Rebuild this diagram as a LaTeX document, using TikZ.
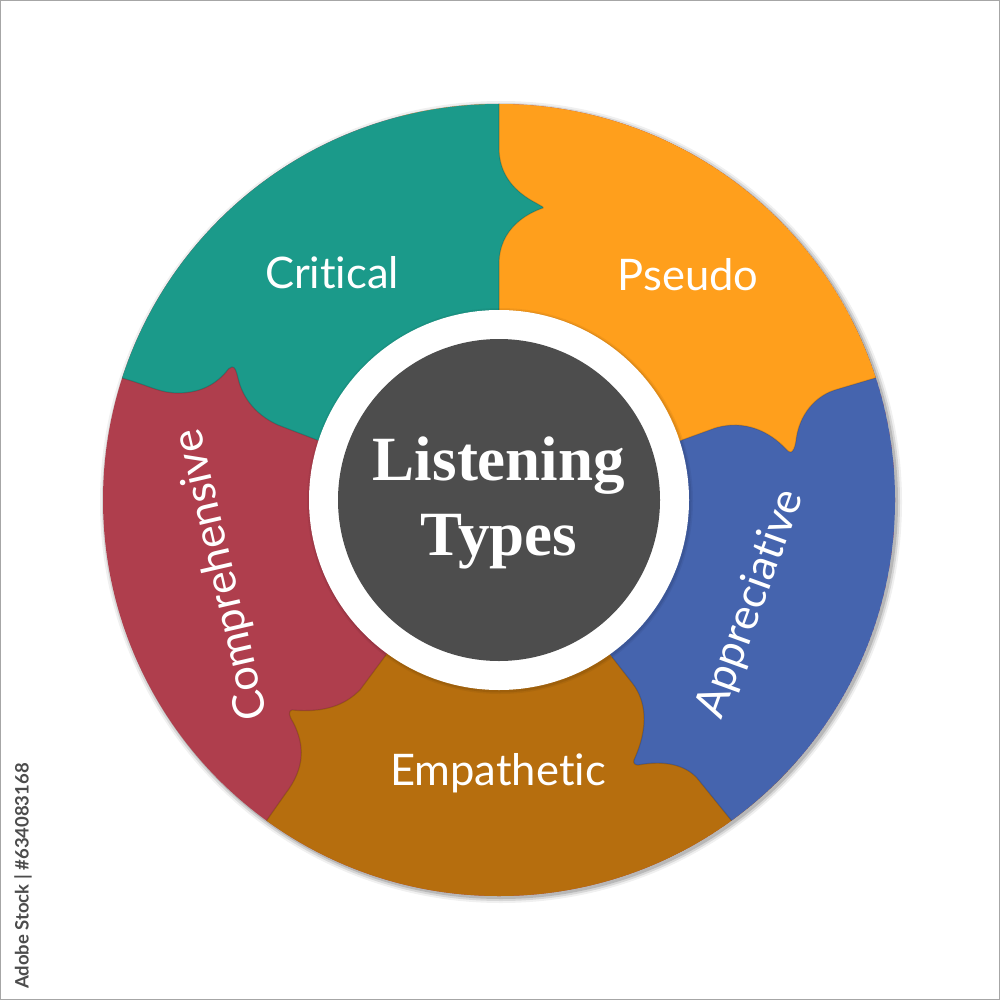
\documentclass[tikz,border=0pt]{standalone}
\usepackage{fontspec}
\setmainfont[Ligatures=NoCommon]{Lato}
\newfontfamily\serifb{Liberation Serif}
\definecolor{cgreen}{HTML}{1B9A8A}
\definecolor{corange}{HTML}{FF9F1C}
\definecolor{cblue}{HTML}{4564AE}
\definecolor{cbrown}{HTML}{B66E0E}
\definecolor{cred}{HTML}{AF3E4D}
\definecolor{cdark}{HTML}{4D4D4D}
\def\bTop{(499,90) -- (499,148) .. controls (499,175) and (515,192) .. (536,203) .. controls (541,206) and (544,207) .. (543,208) .. controls (528,213) and (499,228) .. (499,264) -- (499,310)}
\def\bRedGreen{(317,440) -- (278,425) .. controls (258,416) and (243,400) .. (238,378) .. controls (236,370) and (235,367) .. (232,367) .. controls (229,367) and (228,370) .. (226,372) .. controls (214,386) and (198,393) .. (178,393) .. controls (160,393) and (150,386) .. (122,378) -- (90,368)}
\def\bOrangeBlue{(682,440) -- (715,428) .. controls (745,419) and (770,432) .. (785,448) .. controls (788,451) and (790,453) .. (791,452) .. controls (793,451) and (795,448) .. (796,440) .. controls (799,415) and (815,395) .. (838,389) -- (875,378) -- (930,362)}
\def\bBlueBrown{(612,657) -- (633,684) .. controls (645,700) and (650,725) .. (634,760) .. controls (633,763) and (635,765) .. (638,765) .. controls (665,760) and (685,765) .. (697,778) -- (731,820) -- (760,860)}
\def\bBrownRed{(240,858) -- (267,820) -- (286,793) .. controls (305,768) and (305,745) .. (293,722) .. controls (289,716) and (288,711) .. (292,710) .. controls (325,713) and (345,705) .. (360,690) -- (386,655)}
\tikzset{
  seam/.style={draw=black,opacity=.14,line width=1.2pt},
  seglabel/.style={text=white,font=\fontsize{43.5}{50}\selectfont,inner sep=0pt},
  titlelabel/.style={text=white,font=\serifb\bfseries\fontsize{63}{74}\selectfont,align=center,inner sep=0pt}
}
\begin{document}
\begin{tikzpicture}[x=1pt,y=-1pt]
\useasboundingbox (0,0) rectangle (1000,1000);
\fill[white] (0,0) rectangle (1000,1000);
\draw[black!35,line width=1pt] (0.5,0.5) rectangle (999.5,999.5);
% soft shadow of the wheel
\foreach \r/\o in {401/.06,399/.10,397/.14}{
  \fill[black,opacity=\o] (501,502) circle[radius=\r];
}
\begin{scope}
\clip (499,500) circle[radius=396];
\fill[cred] (499,500) circle[radius=396];
\fill[cbrown] \bBrownRed -- (499,500) -- (700,600) -- (850,850) -- (499,950) -- cycle;
\path[seam] \bBrownRed;
\fill[cblue] (499,500) -- \bBlueBrown -- (780,890) -- (950,800) -- (950,300) -- (700,350) -- cycle;
\path[seam] \bBlueBrown;
\fill[corange] (499,500) -- \bOrangeBlue -- (930,50) -- (400,50) -- (400,250) -- cycle;
\path[seam] \bOrangeBlue;
\fill[cgreen] \bTop -- (499,500) -- \bRedGreen -- (90,90) -- cycle;
\path[seam] \bTop;
\path[seam] \bRedGreen;
\end{scope}
% hub
\foreach \r/\o in {193/.05,191.5/.08}{
  \fill[black,opacity=\o] (500,501) circle[radius=\r];
}
\fill[white] (499,500) circle[radius=190];
\node[circle,fill=cdark,minimum size=322pt,inner sep=0pt] (hub) at (499,500) {};
\node[titlelabel] (title) at (499,503) {Listening\\[1pt]Types};
\node[seglabel] (critical) at (332,273) {Critical};
\node[seglabel] (pseudo) at (688,275) {Pseudo};
\node[seglabel] (empathetic) at (498,773) {Empathetic};
\node[seglabel,rotate=103] (comprehensive) at (222,575) {Comprehensive};
\node[seglabel,rotate=70] (appreciative) at (751,604) {Appreciative};
\node[text=black!70,font=\bfseries\fontsize{18.5}{22}\selectfont,rotate=90,anchor=east,inner sep=0pt] (stock) at (23,763) {Adobe Stock | \#634083168};
\end{tikzpicture}
\end{document}
